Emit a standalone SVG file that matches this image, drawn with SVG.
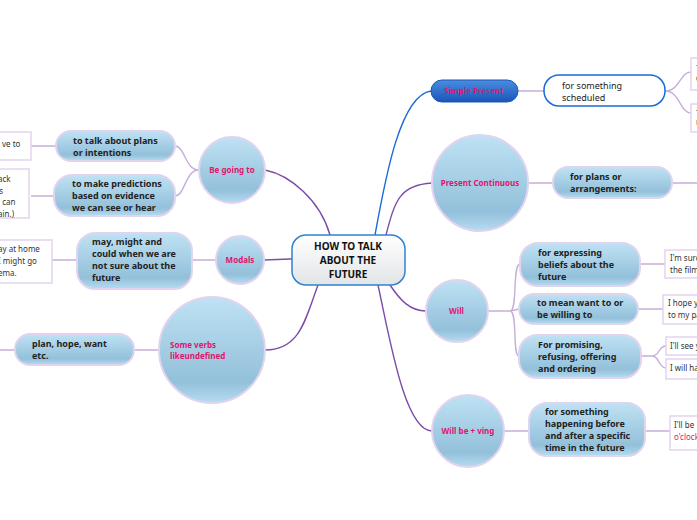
<svg xmlns="http://www.w3.org/2000/svg" width="697" height="520" viewBox="0 0 697 520">
<defs>
<linearGradient id="bub" x1="0" y1="0" x2="0" y2="1"><stop offset="0" stop-color="#bfe2f4"/><stop offset="0.8" stop-color="#93c0da"/><stop offset="1" stop-color="#b6dcf0"/></linearGradient>
<linearGradient id="cen" x1="0" y1="0" x2="0" y2="1"><stop offset="0" stop-color="#ffffff"/><stop offset="1" stop-color="#e2e4e6"/></linearGradient>
<linearGradient id="blu" x1="0" y1="0" x2="0" y2="1"><stop offset="0" stop-color="#4a8de0"/><stop offset="1" stop-color="#1a55b8"/></linearGradient>
</defs>
<style>
text{font-family:"Noto Sans","Liberation Sans",sans-serif}
.b{fill:url(#bub);stroke:#e2d3ee;stroke-width:2}
.t{font-size:9px;font-weight:bold;fill:#222}
.p{font-size:8px;font-weight:bold;fill:#e0146e}
.l{fill:#fff;stroke:#e2d3ee;stroke-width:1.5}
.lt{font-size:8px;fill:#333}
.c{fill:none;stroke:#7d4ca8;stroke-width:1.4}
.c2{fill:none;stroke:#c7afd9;stroke-width:1.4}
.ct{font-size:10px;font-weight:bold;fill:#111}
</style>
<g id="connectors">
<path class="c" d="M330 235 C320 200 290 175 265 170"/>
<path class="c" d="M316 258 L264 260"/>
<path class="c" d="M318 285 C305 320 300 350 265 350"/>
<path fill="none" stroke="#1a6ad8" stroke-width="1.4" d="M375 235 C385 180 400 95 431 91"/>
<path class="c" d="M386 235 C395 200 400 185 432 183"/>
<path class="c" d="M390 285 C400 300 410 311 426 311"/>
<path class="c" d="M378 285 C390 340 405 431 432 431"/>
<path class="c2" d="M199 170 C185 170 185 146 175 146 M199 170 C185 170 185 196 175 196"/>
<path class="c2" d="M56 146 L31 146 M54 196 L31 196 M216 260 L192 260 M77 260 L52 260 M159 350 L134 350 M15 350 L0 350"/>
<path class="c2" d="M518 91 L544 91 M665 91 C680 91 680 72 691 72 M665 91 C680 91 680 113 691 113"/>
<path class="c2" d="M528 183 L553 183 M672 183 L697 183"/>
<path class="c2" d="M488 311 L510 311 C518 311 512 264 520 264 M510 311 L519 309 M510 311 C518 311 512 356 519 356"/>
<path class="c2" d="M640 264 L665 264 M638 309 L665 309 M641 356 L652 356 C660 356 658 346 666 346 M652 356 C660 356 658 368 666 368"/>
<path class="c2" d="M504 431 L529 431 M645 431 L670 431"/>
</g>
<g id="center"><rect x="292" y="235" width="113" height="50" rx="14" fill="url(#cen)" stroke="#2f82cf" stroke-width="1.5"/>
<text class="ct" x="348" y="250" text-anchor="middle">HOW TO TALK</text><text class="ct" x="348" y="264" text-anchor="middle">ABOUT THE</text><text class="ct" x="348" y="278" text-anchor="middle">FUTURE</text></g>
<g id="begoing"><circle class="b" cx="232" cy="170" r="33"/><text class="p" x="232" y="173" text-anchor="middle">Be going to</text></g>
<g id="plans"><rect class="b" x="56" y="131" width="119" height="30" rx="15"/><text class="t" x="73" y="144">to talk about plans</text><text class="t" x="73" y="156">or intentions</text></g>
<g id="predict"><rect class="b" x="54" y="175" width="121" height="41" rx="18"/><text class="t" x="72" y="187">to make predictions</text><text class="t" x="72" y="199">based on evidence</text><text class="t" x="72" y="211">we can see or hear</text></g>
<g id="leaf1"><rect class="l" x="-10" y="132" width="41" height="28"/><text class="lt" x="2" y="147">ve to</text></g>
<g id="leaf2"><rect class="l" x="-10" y="169" width="39" height="49"/><text class="lt" x="-2" y="182">ack</text><text class="lt" x="-2" y="194">’s</text><text class="lt" x="-2" y="205">l can</text><text class="lt" x="-2" y="217">ain.)</text></g>
<g id="modals"><circle class="b" cx="240" cy="260" r="24"/><text class="p" x="240" y="263" text-anchor="middle">Modals</text></g>
<g id="may"><rect class="b" x="77" y="233" width="115" height="56" rx="18"/><text class="t" x="92" y="245">may, might and</text><text class="t" x="92" y="257">could when we are</text><text class="t" x="92" y="269">not sure about the</text><text class="t" x="92" y="281">future</text></g>
<g id="leaf3"><rect class="l" x="-10" y="240" width="62" height="43"/><text class="lt" x="-2" y="252">ay at home</text><text class="lt" x="-2" y="264">I might go</text><text class="lt" x="-2" y="276">ema.</text></g>
<g id="verbs"><circle class="b" cx="212" cy="350" r="53"/><text class="p" x="170" y="348">Some verbs</text><text class="p" x="170" y="359">likeundefined</text></g>
<g id="hope"><rect class="b" x="15" y="334" width="119" height="31" rx="15"/><text class="t" x="32" y="347">plan, hope, want</text><text class="t" x="32" y="359">etc.</text></g>
<g id="simple"><rect x="431" y="80" width="87" height="22" rx="11" fill="url(#blu)" stroke="#1a55b8"/><text class="p" x="474" y="94" text-anchor="middle">Simple Present</text></g>
<g id="sched"><rect x="544" y="75" width="121" height="31" rx="15" fill="#fff" stroke="#1a6ad8" stroke-width="1.5"/><text x="562" y="89" font-size="9" fill="#222">for something</text><text x="562" y="101" font-size="9" fill="#222">scheduled</text></g>
<g id="leaf4"><rect class="l" x="691" y="58" width="20" height="32"/><text class="lt" x="696" y="68">-</text><text class="lt" x="696" y="81">c</text></g>
<g id="leaf5"><rect class="l" x="691" y="104" width="20" height="28"/><text class="lt" x="696" y="113">-</text><text class="lt" x="696" y="125">r</text></g>
<g id="prescont"><circle class="b" cx="480" cy="183" r="48"/><text class="p" x="480" y="186" text-anchor="middle">Present Continuous</text></g>
<g id="arr"><rect class="b" x="553" y="167" width="119" height="31" rx="15"/><text class="t" x="570" y="180">for plans or</text><text class="t" x="570" y="192">arrangements:</text></g>
<g id="leaf6"><rect class="l" x="698" y="168" width="10" height="28"/></g>
<g id="will"><circle class="b" cx="457" cy="311" r="31"/><text class="p" x="449" y="314">Will</text></g>
<g id="beliefs"><rect class="b" x="520" y="243" width="120" height="43" rx="18"/><text class="t" x="538" y="256">for  expressing</text><text class="t" x="538" y="268">beliefs about the</text><text class="t" x="538" y="280">future</text></g>
<g id="willing"><rect class="b" x="519" y="294" width="119" height="30" rx="15"/><text class="t" x="537" y="306">to mean want to or</text><text class="t" x="537" y="318">be willing to</text></g>
<g id="promise"><rect class="b" x="519" y="335" width="122" height="43" rx="18"/><text class="t" x="538" y="348">For promising,</text><text class="t" x="538" y="360">refusing, offering</text><text class="t" x="538" y="372">and ordering</text></g>
<g id="leaf7"><rect class="l" x="665" y="250" width="40" height="28"/><text class="lt" x="670" y="261">I'm sure</text><text class="lt" x="670" y="273">the film</text></g>
<g id="leaf8"><rect class="l" x="663" y="295" width="40" height="29"/><text class="lt" x="668" y="306">I hope y</text><text class="lt" x="668" y="318">to my pa</text></g>
<g id="leaf9"><rect class="l" x="666" y="337" width="40" height="18"/><text class="lt" x="670" y="349">I'll see y</text></g>
<g id="leaf10"><rect class="l" x="666" y="359" width="40" height="20"/><text class="lt" x="670" y="371">I will ha</text></g>
<g id="willbe"><circle class="b" cx="468" cy="431" r="36"/><text class="p" x="468" y="434" text-anchor="middle">Will be + ving</text></g>
<g id="happen"><rect class="b" x="529" y="403" width="116" height="53" rx="18"/><text class="t" x="545" y="415">for something</text><text class="t" x="545" y="427">happening before</text><text class="t" x="545" y="439">and after a specific</text><text class="t" x="545" y="451">time in the future</text></g>
<g id="leaf11"><rect class="l" x="670" y="416" width="40" height="34"/><text class="lt" x="674" y="428">I'll be </text><text x="674" y="440" font-size="8" fill="#e0146e">o'clock</text></g>
</svg>
